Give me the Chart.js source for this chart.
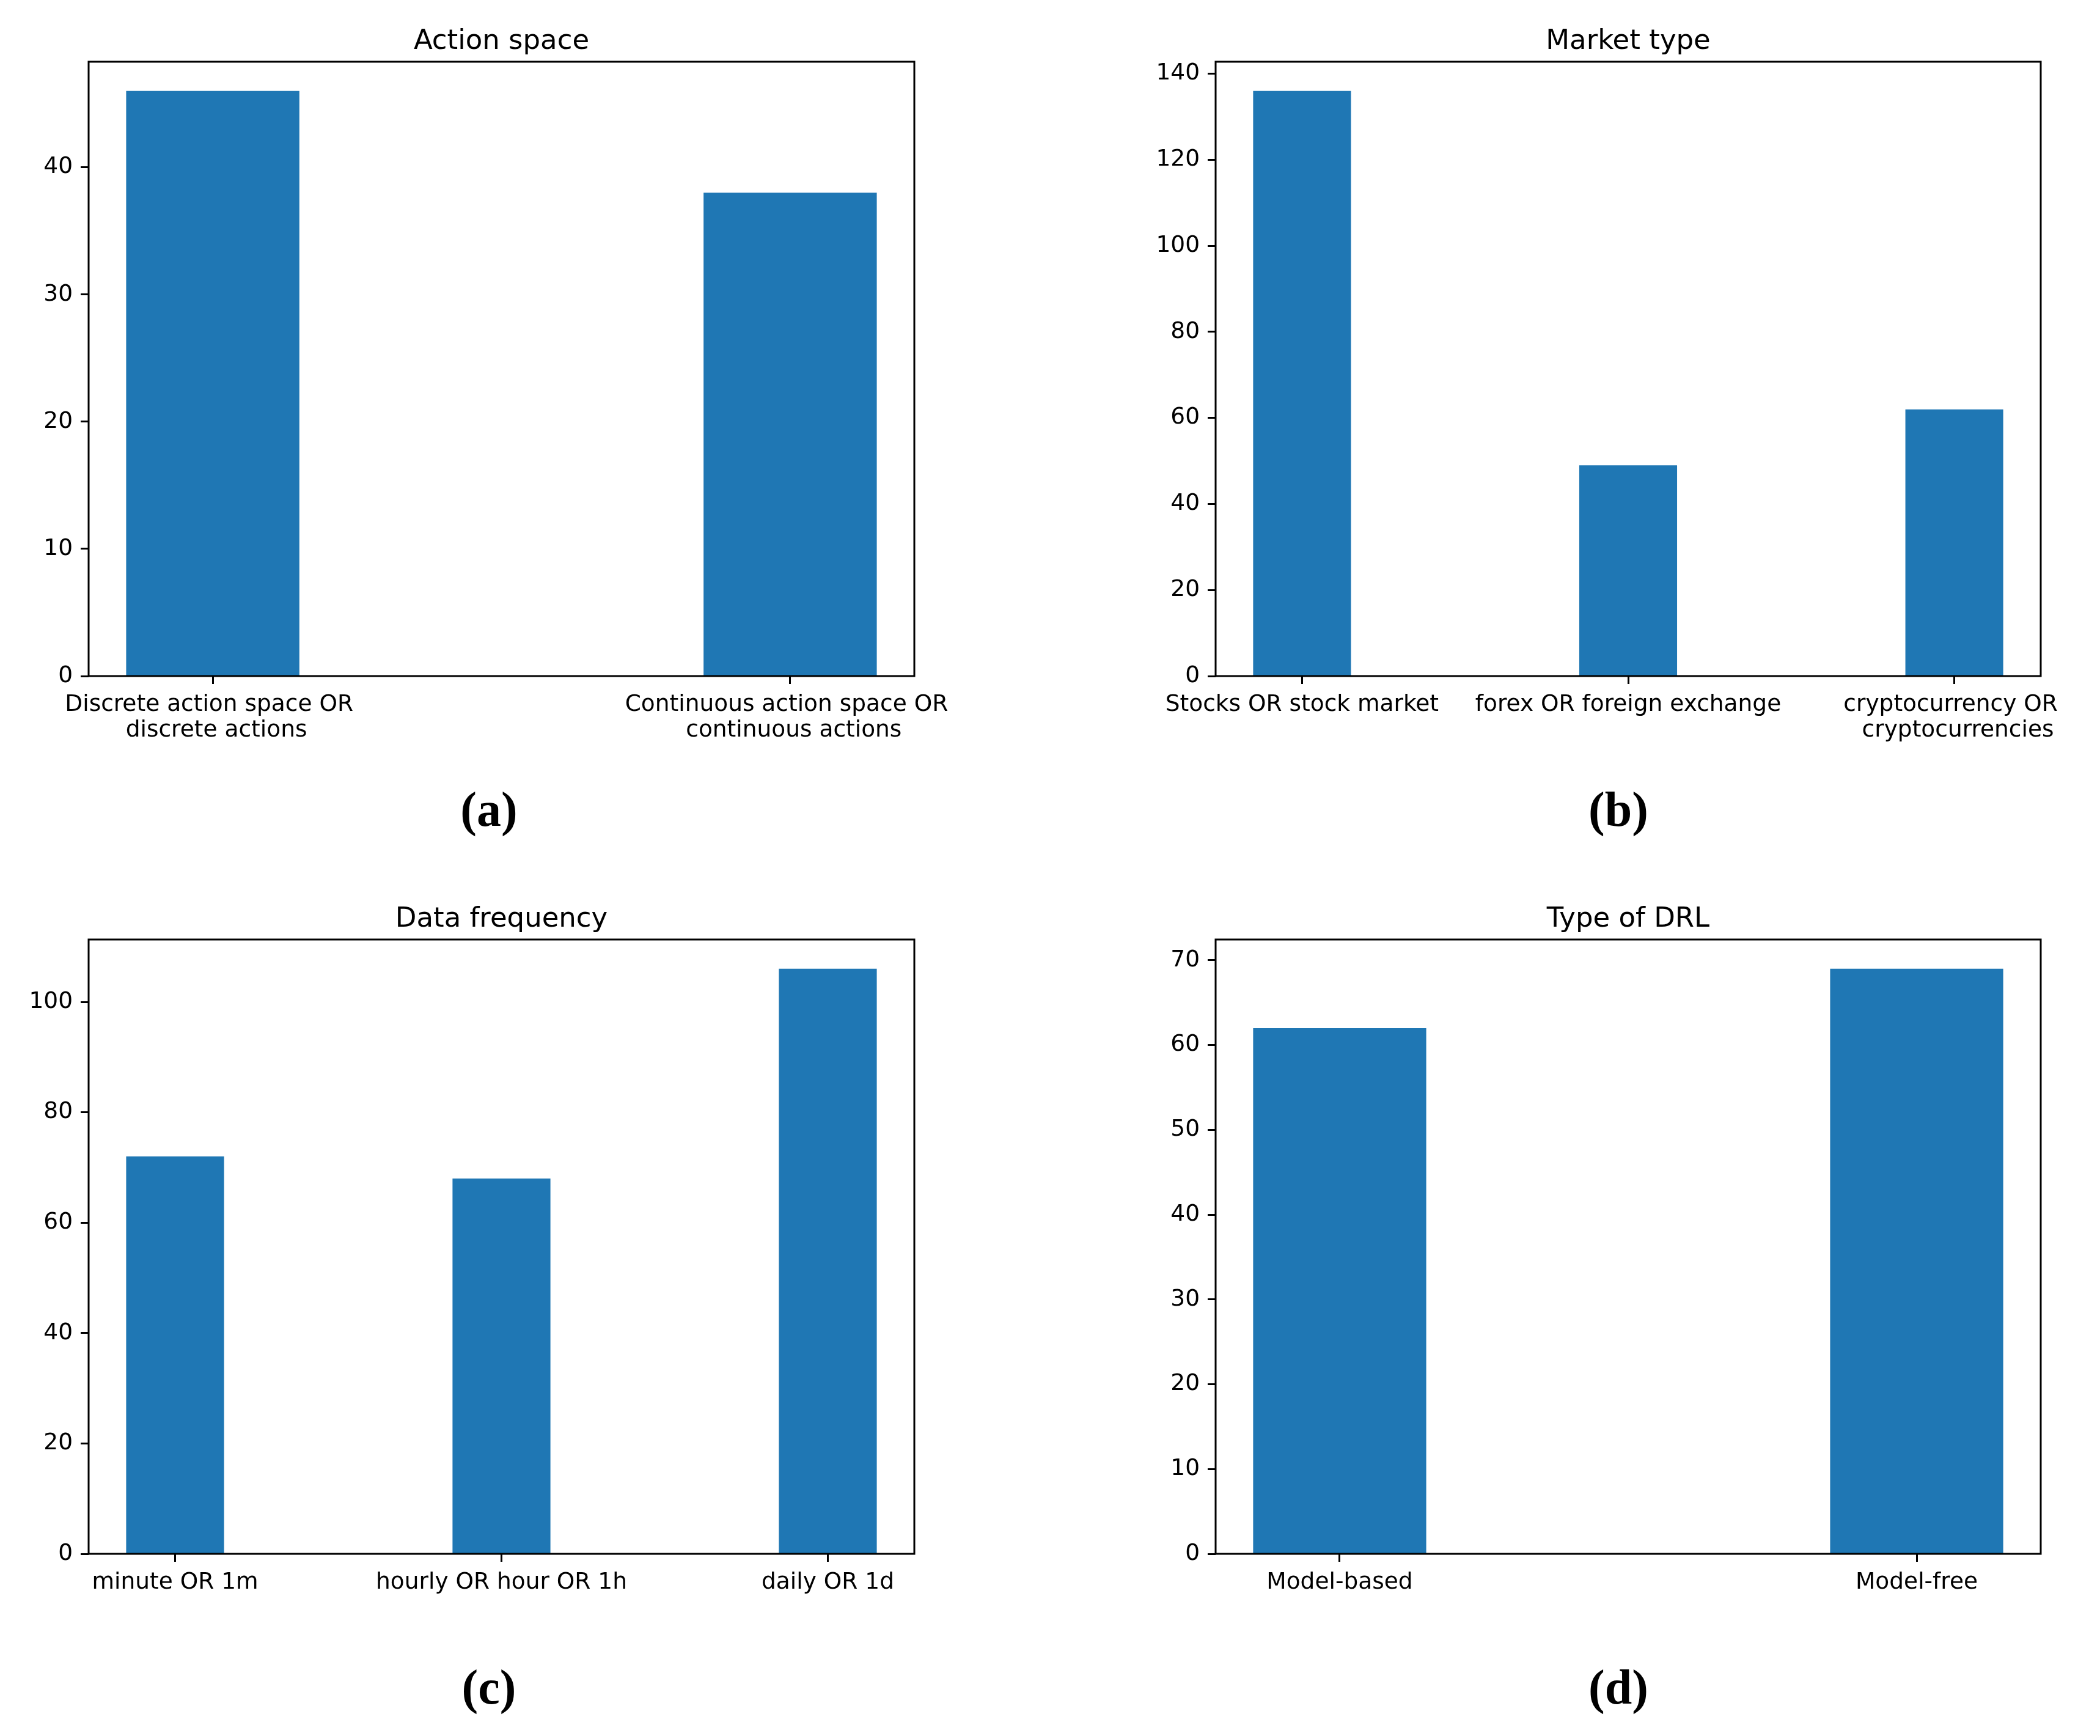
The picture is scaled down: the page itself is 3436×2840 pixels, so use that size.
<!DOCTYPE html>
<html lang="en">
<head>
    <meta charset="UTF-8">
    <title>DRL literature counts</title>
    <script src="https://cdn.jsdelivr.net/npm/chart.js@4.4.1/dist/chart.umd.min.js"></script>
    <style>
        html, body { margin: 0; padding: 0; background: #fff; overflow: hidden; }
        body { width: 3436px; height: 2840px; position: relative; }
        canvas { position: absolute; }
        .sub {
            position: absolute;
            width: 400px;
            text-align: center;
            font-family: "Liberation Serif", serif;
            font-weight: bold;
            font-size: 80px;
            line-height: 80px;
            color: #000;
        }
    </style>
</head>
<body>

    <canvas id="chartA" width="1593" height="1256" style="left:0px;top:0px"></canvas>
    <canvas id="chartB" width="1592" height="1256" style="left:1844px;top:0px"></canvas>
    <canvas id="chartC" width="1593" height="1256" style="left:0px;top:1436px"></canvas>
    <canvas id="chartD" width="1592" height="1256" style="left:1844px;top:1436px"></canvas>

    <div class="sub" style="left:600px;top:1284px">(a)</div>
    <div class="sub" style="left:2448px;top:1284px">(b)</div>
    <div class="sub" style="left:600px;top:2720px">(c)</div>
    <div class="sub" style="left:2448px;top:2720px">(d)</div>

    <script>
        // values
        var actionLabels = [["Discrete action space OR ", " discrete actions"], ["Continuous action space OR ", " continuous actions"]];
        var actionCounts = [46, 38];
        var actionTicks = [0, 10, 20, 30, 40];

        var marketLabels = ["Stocks OR stock market", "forex OR foreign exchange", ["cryptocurrency OR ", " cryptocurrencies"]];
        var marketCounts = [136, 49, 62];
        var marketTicks = [0, 20, 40, 60, 80, 100, 120, 140];

        var freqLabels = ["minute OR 1m", "hourly OR hour OR 1h", "daily OR 1d"];
        var freqCounts = [72, 68, 106];
        var freqTicks = [0, 20, 40, 60, 80, 100];

        var drlLabels = ["Model-based", "Model-free"];
        var drlCounts = [62, 69];
        var drlTicks = [0, 10, 20, 30, 40, 50, 60, 70];

        var barColor = '#1f77b4';
        var tickFont = { family: 'DejaVu Sans', size: 37.5, lineHeight: 1.12 };

        // axes box drawn over the bars, like matplotlib spines
        var framePlugin = {
            id: 'frame',
            afterDatasetsDraw: function (chart) {
                var a = chart.chartArea;
                var ctx = chart.ctx;
                ctx.save();
                ctx.strokeStyle = '#000';
                ctx.lineWidth = 3;
                ctx.strokeRect(a.left, a.top, a.right - a.left, a.bottom - a.top);
                ctx.restore();
            }
        };

        // title centred over the plot area, not the whole canvas
        var axesTitlePlugin = {
            id: 'axesTitle',
            afterDraw: function (chart, args, opts) {
                var a = chart.chartArea;
                var ctx = chart.ctx;
                ctx.save();
                ctx.fillStyle = '#000';
                ctx.font = '45px "DejaVu Sans"';
                ctx.textAlign = 'center';
                ctx.textBaseline = 'alphabetic';
                ctx.fillText(opts.text, (a.left + a.right) / 2, a.top - 21);
                ctx.restore();
            }
        };

        function makeChart(id, title, labels, counts, yTicks)
        {
            var n = labels.length;
            var margin = (n - 1 + 0.3) * 0.05;
            var ymax = Math.max.apply(null, counts) * 1.05;

            return new Chart(document.getElementById(id), {
                type: 'bar',
                data: {
                    datasets: [{
                        data: counts.map(function (v, i) { return { x: i, y: v }; }),
                        backgroundColor: barColor,
                        borderWidth: 0,
                        barPercentage: 0.3,
                        categoryPercentage: 1.0
                    }]
                },
                options: {
                    responsive: false,
                    animation: false,
                    devicePixelRatio: 1,
                    layout: { padding: { left: 0, right: 97, top: 101, bottom: 0 } },
                    plugins: {
                        legend: { display: false },
                        tooltip: { enabled: false },
                        title: { display: false },
                        axesTitle: { text: title }
                    },
                    scales: {
                        x: {
                            type: 'linear',
                            min: -0.15 - margin,
                            max: n - 1 + 0.15 + margin,
                            offset: false,
                            grid: {
                                offset: false,
                                drawOnChartArea: false,
                                drawTicks: true,
                                tickLength: 13,
                                tickWidth: 3,
                                tickColor: '#000',
                                color: '#000'
                            },
                            border: { display: false },
                            ticks: {
                                color: '#000',
                                font: tickFont,
                                padding: 13,
                                maxRotation: 0,
                                minRotation: 0,
                                autoSkip: false,
                                callback: function (v) { return labels[v]; }
                            },
                            afterBuildTicks: function (s) {
                                s.ticks = labels.map(function (l, i) { return { value: i }; });
                            },
                            afterFit: function (s) { s.height = 150; }
                        },
                        y: {
                            min: 0,
                            max: ymax,
                            grid: {
                                drawOnChartArea: false,
                                drawTicks: true,
                                tickLength: 13,
                                tickWidth: 3,
                                tickColor: '#000',
                                color: '#000'
                            },
                            border: { display: false },
                            ticks: {
                                color: '#000',
                                font: tickFont,
                                padding: 13,
                                includeBounds: false
                            },
                            afterBuildTicks: function (s) {
                                s.ticks = yTicks.map(function (v) { return { value: v }; });
                            },
                            afterFit: function (s) { s.width = 145; }
                        }
                    }
                },
                plugins: [framePlugin, axesTitlePlugin]
            });
        }

        makeChart('chartA', 'Action space', actionLabels, actionCounts, actionTicks);
        makeChart('chartB', 'Market type', marketLabels, marketCounts, marketTicks);
        makeChart('chartC', 'Data frequency', freqLabels, freqCounts, freqTicks);
        makeChart('chartD', 'Type of DRL', drlLabels, drlCounts, drlTicks);
    </script>

</body>
</html>
